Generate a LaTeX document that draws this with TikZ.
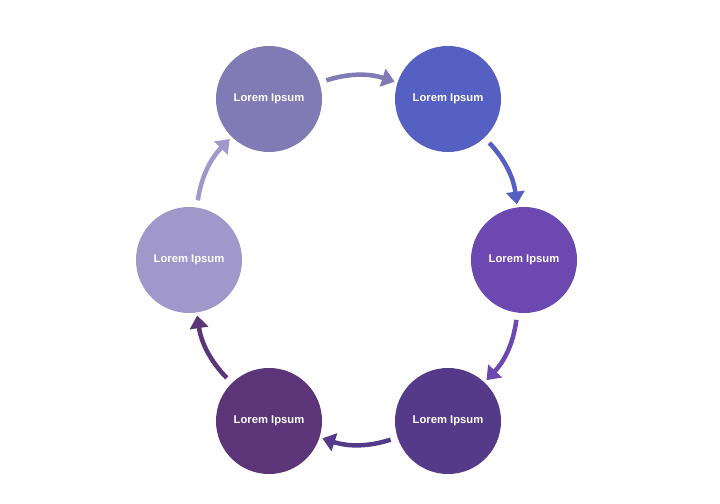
\documentclass[tikz,border=0pt]{standalone}
\usepackage{fontspec}
\setmainfont{Liberation Sans}
\usetikzlibrary{arrows.meta}

\definecolor{stepA}{HTML}{807AB5}
\definecolor{stepB}{HTML}{5660C2}
\definecolor{stepC}{HTML}{6E48B1}
\definecolor{stepD}{HTML}{553A8A}
\definecolor{stepE}{HTML}{5C3478}
\definecolor{stepF}{HTML}{A098CA}

\begin{document}
\begin{tikzpicture}[
    x=0.025cm, y=-0.025cm,
    stage/.style={circle, draw=none, minimum size=2.65cm, inner sep=0pt,
      text=white, font=\fontsize{8}{9.6}\selectfont\bfseries},
    arrow/.style={line width=3.2pt, -{Triangle[length=9pt, width=13pt]},
      shorten <=5pt, shorten >=2pt, bend left=18}
]
\useasboundingbox (0,0) rectangle (720,504);

% Stages
\node[stage, fill=stepA] (tl) at (269,99) {Lorem Ipsum};
\node[stage, fill=stepB] (tr) at (448,99) {Lorem Ipsum};
\node[stage, fill=stepC] (rt) at (524,260) {Lorem Ipsum};
\node[stage, fill=stepD] (br) at (448,421) {Lorem Ipsum};
\node[stage, fill=stepE] (bl) at (269,421) {Lorem Ipsum};
\node[stage, fill=stepF] (lt) at (189,260) {Lorem Ipsum};

% Arrows
\draw[arrow, stepA] (tl) to (tr);
\draw[arrow, stepB] (tr) to (rt);
\draw[arrow, stepC] (rt) to (br);
\draw[arrow, stepD] (br) to (bl);
\draw[arrow, stepE] (bl) to (lt);
\draw[arrow, stepF] (lt) to (tl);

\end{tikzpicture}
\end{document}
